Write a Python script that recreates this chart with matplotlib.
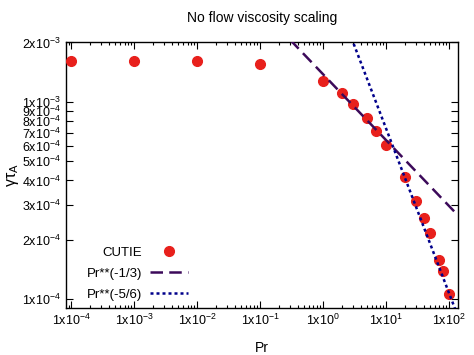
import numpy as np
import matplotlib
matplotlib.use('Agg')
import matplotlib.pyplot as plt
from matplotlib.ticker import FixedLocator, LogLocator, NullFormatter

plt.rcParams['font.family'] = ['Liberation Sans', 'DejaVu Sans']
plt.rcParams['mathtext.fontset'] = 'custom'
plt.rcParams['mathtext.rm'] = 'Liberation Sans'
plt.rcParams['mathtext.it'] = 'Liberation Sans'
plt.rcParams['mathtext.default'] = 'rm'

# Dados (CUTIE)
pr = [1e-4, 1e-3, 1e-2, 1e-1, 1, 2, 3, 5, 7, 10, 20, 30, 40, 50, 70, 80, 100]
gamma_tau = [1.61e-3, 1.61e-3, 1.61e-3, 1.55e-3, 1.27e-3, 1.105e-3, 9.8e-4,
             8.27e-4, 7.13e-4, 6.02e-4, 4.17e-4, 3.15e-4, 2.59e-4, 2.17e-4,
             1.59e-4, 1.39e-4, 1.06e-4]

# Leis de potencia
coef_13 = 1.38e-3
coef_56 = 5.0e-3

y_ticks = [1e-4, 2e-4, 3e-4, 4e-4, 5e-4, 6e-4, 7e-4, 8e-4, 9e-4, 1e-3, 2e-3]
y_labels = [r'1x10$^{-4}$', r'2x10$^{-4}$', r'3x10$^{-4}$', r'4x10$^{-4}$',
            r'5x10$^{-4}$', r'6x10$^{-4}$', r'7x10$^{-4}$', r'8x10$^{-4}$',
            r'9x10$^{-4}$', r'1x10$^{-3}$', r'2x10$^{-3}$']
x_ticks = [1e-4, 1e-3, 1e-2, 1e-1, 1, 10, 100]
x_labels = [r'1x10$^{-4}$', r'1x10$^{-3}$', r'1x10$^{-2}$', r'1x10$^{-1}$',
            r'1x10$^{0}$', r'1x10$^{1}$', r'1x10$^{2}$']

fig = plt.figure(figsize=(4.74, 3.55), dpi=100)
ax = fig.add_axes([0.1392, 0.1324, 0.8270, 0.7479])

xmin, xmax = 8.2e-5, 139
ymin, ymax = 9.04e-5, 2e-3

xs = np.logspace(np.log10(xmin), np.log10(xmax), 400)
ax.plot(pr, gamma_tau, 'o', color='#e8201c', markersize=7, label='CUTIE', zorder=3)
ax.plot(xs, coef_13 * xs ** (-1 / 3), color='#3c0a5a', lw=1.8,
        dashes=(5, 2.5), label='Pr**(-1/3)', zorder=4)
ax.plot(xs, coef_56 * xs ** (-5 / 6), color='#00008b', lw=1.8,
        dashes=(1.2, 1.2), label='Pr**(-5/6)', zorder=4)

ax.set_xscale('log')
ax.set_yscale('log')
ax.set_xlim(xmin, xmax)
ax.set_ylim(ymin, ymax)

ax.xaxis.set_major_locator(FixedLocator(x_ticks))
ax.set_xticklabels(x_labels)
ax.xaxis.set_minor_locator(LogLocator(base=10, subs=np.arange(2, 10), numticks=20))
ax.xaxis.set_minor_formatter(NullFormatter())
ax.yaxis.set_major_locator(FixedLocator(y_ticks))
ax.set_yticklabels(y_labels)
ax.yaxis.set_minor_locator(FixedLocator([]))

ax.tick_params(which='both', direction='in', top=True, right=True,
               labelsize=9, width=0.8)
ax.tick_params(which='major', length=5)
ax.tick_params(which='minor', length=2.5)
for s in ax.spines.values():
    s.set_linewidth(1.0)

ax.set_xlabel('Pr', fontsize=10, labelpad=9)
ax.set_ylabel(r'γτ$_{\mathrm{A}}$', fontsize=11.5, labelpad=1)
ax.set_title('No flow viscosity scaling', fontsize=10, pad=15)

ax.legend(loc='lower left', bbox_to_anchor=(0.022, -0.018), markerfirst=False,
          frameon=False, fontsize=9.5, handlelength=2.9, handletextpad=0.6,
          labelspacing=0.66, numpoints=1)

plt.savefig('out.png', dpi=100)
